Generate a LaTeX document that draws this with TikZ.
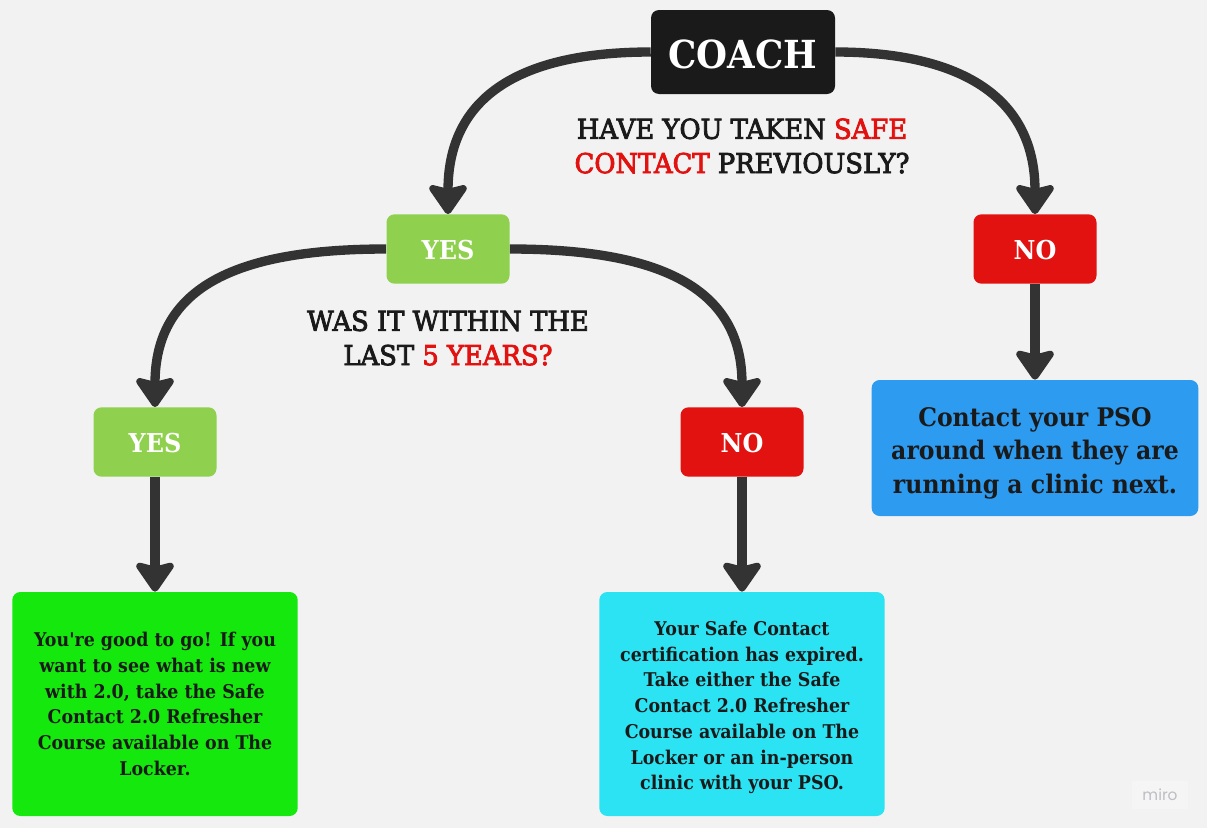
\documentclass[tikz,border=0pt]{standalone}
\usepackage{fontspec}
\setmainfont{DejaVu Serif}[FakeStretch=0.92,Ligatures=TeXOff]
\newfontfamily\headf{DejaVu Serif}[FakeStretch=0.945,FakeBold=3,Ligatures=TeXOff]
\newfontfamily\misof{Poppins}
\usetikzlibrary{arrows.meta}
\definecolor{bgc}{HTML}{F2F2F2}
\definecolor{ink}{HTML}{1A1A1A}
\definecolor{linec}{HTML}{333333}
\definecolor{redc}{HTML}{E1120F}
\definecolor{greenc}{HTML}{8FD14F}
\definecolor{bluec}{HTML}{2D9BF0}
\definecolor{limec}{HTML}{14E80C}
\definecolor{cyanc}{HTML}{2BE3F2}
\definecolor{miroc}{HTML}{BDBDC4}
\definecolor{mirobg}{HTML}{F5F5F5}
\tikzset{
 x=0.75pt,y=-0.75pt,
 box/.style={rounded corners=6pt,inner sep=0pt,align=center,anchor=center},
 ans/.style={box,minimum width=92.25pt,minimum height=52pt,text=white,font=\fontsize{19.5}{23}\selectfont\bfseries},
 conn/.style={line width=7pt,linec,-{Stealth[length=25pt,width=34pt,inset=4pt,round]}},
 head/.style={font=\fontsize{20.5}{25.7}\selectfont\headf,text=ink,align=center},
 res/.style={box,text=ink,font=\fontsize{14.2}{19.3}\selectfont\bfseries,minimum width=214pt,minimum height=168pt}
}
\begin{document}
\begin{tikzpicture}
\path[use as bounding box,fill=bgc] (0,0) rectangle (1207,828);
\node[box,fill=ink,text=white,minimum width=138pt,minimum height=63pt,font=\fontsize{29}{36}\selectfont\bfseries] (coach) at (743,52) {\rule{0pt}{25pt}COACH};
\node[ans,fill=greenc] (y1) at (448,249) {\rule{0pt}{16pt}YES};
\node[ans,fill=redc] (n1) at (1035,249) {\rule{0pt}{16pt}NO};
\node[ans,fill=greenc] (y2) at (155,442) {\rule{0pt}{16pt}YES};
\node[ans,fill=redc] (n2) at (742,442) {\rule{0pt}{16pt}NO};
\node[box,fill=bluec,minimum width=245pt,minimum height=102pt,text=ink,font=\fontsize{19.2}{25}\selectfont\bfseries] (r3) at (1035,448) {\rule{0pt}{22pt}Contact your PSO\\around when they are\\running a clinic next.};
\node[res,fill=limec] (r1) at (155,704) {You're good to go! If you\\want to see what is new\\with 2.0, take the Safe\\Contact 2.0 Refresher\\Course available on The\\Locker.};
\node[res,fill=cyanc] (r2) at (742,704) {\rule{0pt}{16pt}Your Safe Contact\\certification has expired.\\Take either the Safe\\Contact 2.0 Refresher\\Course available on The\\Locker or an in-person\\clinic with your PSO.};
\node[head] (q1) at (742,146) {HAVE YOU TAKEN \textcolor{redc}{SAFE}\\\textcolor{redc}{CONTACT} PREVIOUSLY?};
\node[head] (q2) at (448,338) {WAS IT WITHIN THE\\LAST \textcolor{redc}{5 YEARS?}};
\node[fill=mirobg,text=miroc,minimum width=42pt,minimum height=21pt,inner sep=0pt,font=\fontsize{11.5}{14}\selectfont\misof] (m) at (1160,795) {miro};
\draw[conn] (coach.west) .. controls (530,52) and (448,90) .. (y1.north);
\draw[conn] (coach.east) .. controls (950,52) and (1035,90) .. (n1.north);
\draw[conn] (y1.west) .. controls (240,249) and (155,285) .. (y2.north);
\draw[conn] (y1.east) .. controls (655,249) and (742,285) .. (n2.north);
\draw[conn] (n1.south) -- (r3.north);
\draw[conn] (y2.south) -- (r1.north);
\draw[conn] (n2.south) -- (r2.north);
\end{tikzpicture}
\end{document}
